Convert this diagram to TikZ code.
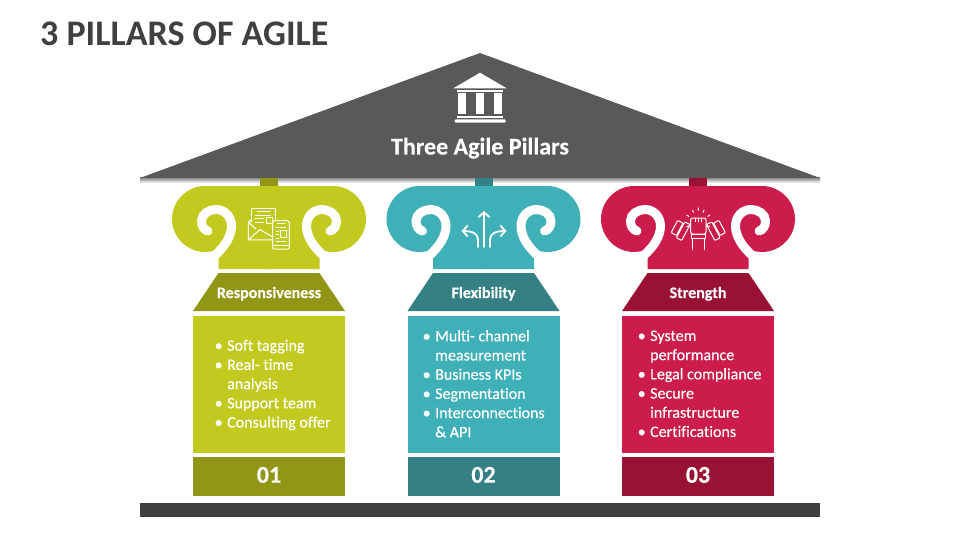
\documentclass[tikz,border=0pt]{standalone}
\usepackage{fontspec}
\setmainfont[Ligatures=NoCommon]{Carlito}
\usepackage{tikz}
\usetikzlibrary{arrows.meta,positioning,calc}

\definecolor{limeA}{HTML}{C2CA20}
\definecolor{limeB}{HTML}{919616}
\definecolor{tealA}{HTML}{40B0B8}
\definecolor{tealB}{HTML}{348085}
\definecolor{redA}{HTML}{CC1C4B}
\definecolor{redB}{HTML}{991235}
\definecolor{roofgray}{HTML}{595959}
\definecolor{inkgray}{HTML}{404040}

\newcommand{\pitem}[1]{\makebox[11pt][l]{\hspace*{-1.5pt}\textbullet}#1}
\newcommand{\pcont}[1]{\hspace*{11pt}#1}

\begin{document}
\begin{tikzpicture}[
	x=1pt, y=-1pt,
	title/.style = {anchor=base west, inner sep=0pt, text=inkgray, font=\fontsize{36}{40}\selectfont\bfseries},
	roofname/.style = {anchor=base, inner sep=0pt, text=white, font=\fontsize{24}{28}\selectfont\bfseries\addfontfeature{FakeBold=0.2}},
	pname/.style = {anchor=base, inner sep=0pt, text=white, font=\fontsize{16}{19}\selectfont\bfseries\addfontfeature{FakeBold=0.2}},
	pnumber/.style = {anchor=base, inner sep=0pt, text=white, font=\fontsize{24}{28}\selectfont\bfseries\addfontfeature{FakeBold=0.2}},
	plist/.style = {anchor=west, inner sep=0pt, align=left, text=white, font=\fontsize{16}{19.2}\selectfont\addfontfeature{FakeBold=0.3}},
	scroll/.style = {draw=white, line width=9pt, line cap=round},
	icon/.style = {draw=white, line width=1pt, line join=round},
	iconarrow/.style = {draw=white, line width=1.8pt, line cap=round, -{Straight Barb[length=5pt,width=11pt]}},
	]
	\useasboundingbox (0,0) rectangle (960,540);
	\fill[white] (0,0) rectangle (960,540);

	\node[title] (heading) at (40,46) {3 PILLARS OF AGILE};

	% roof and floor
	\shade[top color=black!45, bottom color=white] (140,178) rectangle (820,183);
	\fill[roofgray] (480,53) -- (820,178) -- (140,178) -- cycle;
	\fill[inkgray] (140,503) rectangle (820,517);
	\node[roofname] (roofname) at (480,154.5) {Three Agile Pillars};

	% temple icon
	\fill[white] (480,72.7) -- (506.7,88.3) -- (453.3,88.3) -- cycle;
	\fill[white] (456.7,90) rectangle (503.3,92.3);
	\foreach \px in {458.3,476,494}
		\fill[white] (\px,93.3) rectangle ++(7.7,20.7);
	\fill[white] (456.7,115.7) rectangle (503.3,118);
	\fill[white,rounded corners=1pt] (454.7,119.3) rectangle (505.7,122.7);

	% the three pillars
	\foreach \cx/\fillc/\darkc/\lbl/\num [count=\j] in {269/limeA/limeB/Responsiveness/01, 483.5/tealA/tealB/Flexibility/02, 698/redA/redB/Strength/03}
	{
		\begin{scope}[shift={(\cx,0)}]
		\fill[\darkc] (-9,178) rectangle (9,186.5);
		\foreach \side in {-1,1}
		{
			\begin{scope}[xscale=\side]
			\fill[\fillc] (1,186) -- (-64,186) .. controls (-82,186) and (-97,201) .. (-97,219)
				.. controls (-97,237) and (-82,252) .. (-64,252)
				.. controls (-57,252) and (-51,250) .. (-47,246)
				-- (-50.5,257) -- (-50.5,269) -- (1,269) -- cycle;
			\draw[scroll] (-61,231) .. controls (-65,230) and (-67.5,226) .. (-67.5,221)
				.. controls (-67.5,214) and (-60,209.5) .. (-53,209.5)
				.. controls (-44,209.5) and (-37.5,217) .. (-37.5,226)
				.. controls (-37.5,236) and (-44,247) .. (-56,257);
			\end{scope}
		}
		\fill[\darkc] (-50.5,273) -- (50.5,273) -- (76,311) -- (-76,311) -- cycle;
		\fill[\fillc] (-76,316) rectangle (76,453);
		\fill[\darkc] (-76,457) rectangle (76,496);
		\node[pname] (name-\j) at (0,298) {\lbl};
		\node[pnumber] (number-\j) at (0,482.7) {\num};
		\end{scope}
	}

	\node[plist] (list-1) at (216,385) {\pitem{Soft tagging}\\ \pitem{Real- time}\\ \pcont{analysis}\\ \pitem{Support team}\\ \pitem{Consulting offer}};
	\node[plist] (list-2) at (424,383.8) {\pitem{Multi- channel}\\ \pcont{measurement}\\ \pitem{Business KPIs}\\ \pitem{Segmentation}\\ \pitem{Interconnections}\\ \pcont{\& API}};
	\node[plist] (list-3) at (639,383.8) {\pitem{System}\\ \pcont{performance}\\ \pitem{Legal compliance}\\ \pitem{Secure}\\ \pcont{infrastructure}\\ \pitem{Certifications}};

	% mail and phone icon
	\draw[icon] (251.7,222) -- (251.7,208.3) -- (275.5,208.3) -- (275.5,220);
	\draw[icon] (251.7,219.5) -- (248.3,222) -- (248.3,239.8) -- (272.5,239.8);
	\draw[icon] (248.3,239.8) -- (260,229.5) -- (272.5,237);
	\draw[icon] (248.3,222) -- (256,229);
	\draw[icon] (256.7,211.5) -- (270,211.5) (255,215) -- (271,215) (255,218.5) -- (264,218.5) (255,222.5) -- (264,222.5);
	\draw[icon] (266.7,217.3) rectangle (272.5,223.3);
	\draw[icon,rounded corners=1.5pt] (272.5,220.7) rectangle (289.3,249.2);
	\draw[icon] (272.5,245) -- (289.3,245);
	\draw[icon] (277,223.5) -- (285,223.5) (275.5,227.5) -- (286,227.5) (275.5,231) -- (279,231) (275.5,234.5) -- (279,234.5) (275.5,238) -- (279,238) (275.5,241.5) -- (286,241.5);
	\draw[icon] (280.5,230.5) rectangle (286,237);

	% arrows icon
	\draw[iconarrow] (484,247) -- (484,211);
	\draw[iconarrow] (490,247) -- (490,240) .. controls (490,234) and (495,231) .. (506.5,231);
	\draw[iconarrow] (478,247) -- (478,240) .. controls (478,234) and (473,231) .. (461.5,231);

	% fist and dumbbells icon
	\draw[icon,rounded corners=2pt] (690.7,218) rectangle (706,234);
	\draw[icon] (695,218) -- (695,221.5) (698.4,218) -- (698.4,221.5) (701.8,218) -- (701.8,221.5);
	\draw[icon] (691.7,234) rectangle (705,238.5);
	\draw[icon] (692.7,238.5) -- (692.7,250) (704,238.5) -- (704,250);
	\draw[icon,rounded corners=1pt,rotate around={-28:(681,230)}] (673.5,223) rectangle (679.5,237) (680.5,221) rectangle (686.5,239);
	\draw[icon,rounded corners=1pt,rotate around={28:(715.5,230)}] (717,223) rectangle (723,237) (710,221) rectangle (716,239);
	\draw[icon] (686.5,227) -- (690.7,225) (710,227) -- (706,225);
	\draw[icon] (698.3,207.5) -- (698.3,210.5) (692.5,210) -- (693.5,212.5) (704,210) -- (703,212.5) (686.5,215) -- (689,216.5) (710,215) -- (707.5,216.5);
\end{tikzpicture}
\end{document}
